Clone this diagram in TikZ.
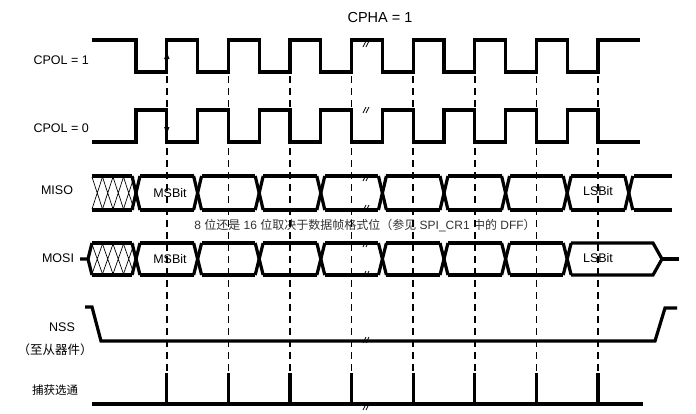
\documentclass[tikz,border=0pt]{standalone}
\usepackage{fontspec}
\usetikzlibrary{arrows.meta}
\setmainfont{Liberation Sans}
\newfontfamily\cjk{Noto Sans CJK SC}
\begin{document}
\begin{tikzpicture}[x=1pt,y=-1pt,
  sig/.style={line width=3.2pt,line join=miter},
  lbl/.style={font=\fontsize{12.5}{14}\selectfont,inner sep=0pt},
  dsh/.style={line width=1.6pt,dash pattern=on 7pt off 5pt},
  brk/.style={line width=0.7pt}]
\useasboundingbox (0,0) rectangle (696,413);
\def\p{61.6}
% title
\node[lbl,font=\fontsize{14.5}{16}\selectfont] (cpha) at (380,18) {CPHA = 1};
% labels
\node[lbl,anchor=east] (l1) at (89,60) {CPOL = 1};
\node[lbl,anchor=east] (l0) at (89,128) {CPOL = 0};
\node[lbl] (lmiso) at (57,190) {MISO};
\node[lbl] (lmosi) at (58,258) {MOSI};
\node[lbl] (lnss) at (62,327) {NSS};
\node[lbl,font=\cjk\fontsize{12.5}{14}\selectfont] (lzc) at (55,350) {（至从器件）};
\node[lbl,font=\cjk\fontsize{11.5}{14}\selectfont] (lcap) at (55,390) {捕获选通};
% CPOL=1
\draw[sig] (92,40)
  \foreach \k in {0,...,7}{ -- ({136+\k*\p},40) -- ({136+\k*\p},72) -- ({166.8+\k*\p},72) -- ({166.8+\k*\p},40)}
  -- (640,40);
% CPOL=0
\draw[sig] (92,142)
  \foreach \k in {0,...,7}{ -- ({136+\k*\p},142) -- ({136+\k*\p},110) -- ({166.8+\k*\p},110) -- ({166.8+\k*\p},142)}
  -- (640,142);
% edge arrows
\draw[-{Triangle[length=7pt,width=5pt]},line width=1.4pt] (166.8,72) -- (166.8,52);
\draw[-{Triangle[length=7pt,width=5pt]},line width=1.4pt] (166.8,112) -- (166.8,134);
% MISO
\foreach \k in {0,...,8}{
  \draw[sig] ({136+\k*\p-4},176) -- ({136+\k*\p+4},210);
  \draw[sig] ({136+\k*\p-4},210) -- ({136+\k*\p+4},176);
}
\foreach \k in {0,...,7}{
  \draw[sig] ({140+\k*\p},176) -- ({132+(\k+1)*\p},176);
  \draw[sig] ({140+\k*\p},210) -- ({132+(\k+1)*\p},210);
}
\draw[sig] (92,176) -- (132,176) (92,210) -- (132,210);
\draw[sig] (634.4,176) -- (672,176) (634.4,210) -- (672,210);
\foreach \i in {0,...,3}{
  \draw[line width=0.7pt] ({92+\i*10.5},177) -- ({102.5+\i*10.5},209) ({92+\i*10.5},209) -- ({102.5+\i*10.5},177);
}
\node[lbl] (ms1) at (170,193) {MSBit};
\node[lbl] (ls1) at (598,191) {LSBit};
% caption
\node[lbl,text=black!80,font=\fontsize{12}{14}\selectfont] (cap) at (365,226) {8 {\cjk 位还是} 16 {\cjk 位取决于数据帧格式位（参见} SPI\_CR1 {\cjk 中的} DFF{\cjk ）}};
% MOSI
\draw[sig] (80,259) -- (88,259) -- (92,243) (88,259) -- (92,275);
\foreach \k in {0,...,7}{
  \draw[sig] ({136+\k*\p-4},243) -- ({136+\k*\p+4},275);
  \draw[sig] ({136+\k*\p-4},275) -- ({136+\k*\p+4},243);
}
\foreach \k in {0,...,6}{
  \draw[sig] ({140+\k*\p},243) -- ({132+(\k+1)*\p},243);
  \draw[sig] ({140+\k*\p},275) -- ({132+(\k+1)*\p},275);
}
\draw[sig] (92,243) -- (132,243) (92,275) -- (132,275);
\draw[sig] (571.2,243) -- (653,243) -- (662,259) -- (653,275) -- (571.2,275);
\draw[sig] (662,259) -- (679,259);
\foreach \i in {0,...,3}{
  \draw[line width=0.7pt] ({92+\i*10.5},244) -- ({102.5+\i*10.5},274) ({92+\i*10.5},274) -- ({102.5+\i*10.5},244);
}
\node[lbl] (ms2) at (170,259) {MSBit};
\node[lbl] (ls2) at (598,258) {LSBit};
% NSS
\draw[sig] (85,307) -- (92,307) -- (101,341) -- (655,341) -- (665,308) -- (677,308);
% capture strobe
\draw[sig] (92,404) -- (643,404);
\foreach \k in {0,...,7}{
  \draw[sig] ({166.8+\k*\p},404) -- ({166.8+\k*\p},373);
}
% dashed guides
\foreach \k in {0,...,7}{
  \draw[dsh] ({166.8+\k*\p},76) -- ({166.8+\k*\p},400);
}
% break marks
\foreach \y in {44,110,178,208,244,274,340,407}{
  \draw[brk] (363,{\y+3}) -- (366,{\y-3}) (366,{\y+3}) -- (369,{\y-3});
}
\end{tikzpicture}
\end{document}
